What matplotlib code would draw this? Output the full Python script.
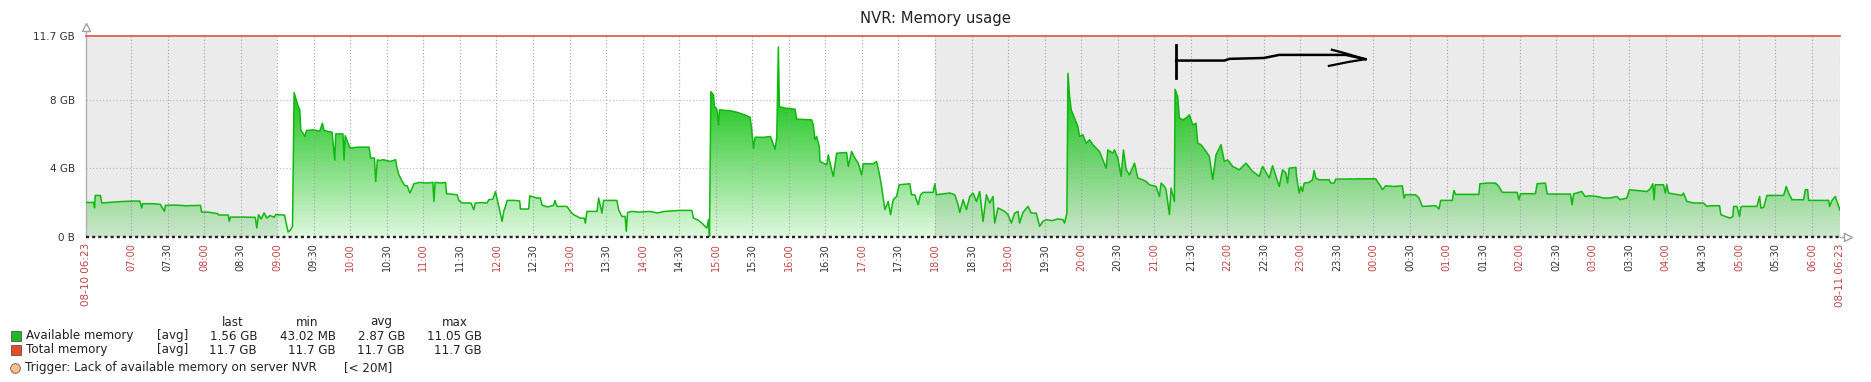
import numpy as np
import matplotlib
matplotlib.use('Agg')
import matplotlib.pyplot as plt
from matplotlib.lines import Line2D

# time in hours since 08-10 00:00, memory in GB
t_start = 6 + 23/60
t_end = 30 + 23/60

# available memory as (hour, GB)
seg_morning = [(6.383, 2.01), (6.49, 2.01), (6.50, 1.70), (6.51, 2.42), (6.58, 2.42), (6.60, 1.98),
               (6.75, 2.03), (6.90, 2.07), (7.00, 2.09), (7.12, 2.09), (7.146, 1.70), (7.16, 1.94),
               (7.30, 1.94), (7.40, 1.90), (7.455, 1.50), (7.47, 1.84), (7.60, 1.86), (7.75, 1.82),
               (7.95, 1.84), (7.965, 1.45), (8.05, 1.45), (8.184, 1.36), (8.20, 1.28), (8.33, 1.28),
               (8.343, 0.91), (8.36, 1.16), (8.55, 1.16), (8.70, 1.14), (8.72, 0.52), (8.744, 1.30),
               (8.78, 1.05), (8.82, 1.40), (8.86, 1.10), (8.90, 1.25), (8.958, 1.15), (8.98, 1.30),
               (9.10, 1.28), (9.117, 0.91), (9.149, 0.29), (9.18, 0.40), (9.209, 0.62), (9.231, 8.41),
               (9.28, 7.69), (9.309, 7.40), (9.322, 6.24), (9.38, 5.85), (9.40, 6.20), (9.50, 6.24),
               (9.58, 6.15), (9.618, 6.62), (9.64, 6.20), (9.75, 6.10), (9.787, 4.49), (9.80, 6.00),
               (9.90, 6.00), (9.914, 4.49), (9.93, 5.90), (9.996, 5.17), (10.10, 5.23), (10.256, 5.23),
               (10.279, 4.59), (10.33, 4.60), (10.347, 3.23), (10.37, 4.49), (10.40, 4.45)]

seg_midday = [(10.45, 4.50), (10.55, 4.40), (10.62, 4.50), (10.634, 4.11), (10.665, 3.62), (10.711, 3.23),
              (10.75, 2.98), (10.779, 2.98), (10.816, 2.56), (10.84, 2.79), (10.87, 3.10), (10.95, 3.18),
              (11.05, 3.14), (11.13, 3.18), (11.144, 2.07), (11.16, 3.18), (11.25, 3.14), (11.303, 3.18),
              (11.317, 2.52), (11.462, 2.46), (11.485, 2.13), (11.53, 1.98), (11.65, 1.98), (11.69, 1.59),
              (11.71, 1.98), (11.80, 2.00), (11.872, 1.98), (11.895, 2.17), (11.95, 2.20), (11.986, 2.65),
              (12.032, 1.78), (12.077, 0.91), (12.10, 1.50), (12.123, 1.78), (12.145, 2.13), (12.25, 2.13),
              (12.318, 2.10), (12.328, 1.63), (12.441, 1.63), (12.455, 2.40), (12.55, 2.27), (12.60, 2.27),
              (12.624, 1.85), (12.70, 1.75), (12.783, 1.85), (12.80, 2.13), (12.828, 1.78), (12.965, 1.78),
              (13.01, 1.49), (13.056, 1.30), (13.147, 1.10), (13.20, 1.10), (13.216, 0.81), (13.238, 1.49),
              (13.375, 1.49), (13.398, 2.27), (13.443, 1.39), (13.466, 2.13), (13.648, 2.13), (13.671, 1.59),
              (13.716, 1.20), (13.76, 1.20), (13.776, 0.33), (13.794, 1.43), (13.85, 1.49), (13.95, 1.45),
              (14.10, 1.49), (14.20, 1.40), (14.30, 1.49), (14.513, 1.55)]

seg_afternoon = [(14.673, 1.55), (14.696, 1.10), (14.764, 0.97), (14.81, 0.81), (14.878, 0.52), (14.901, 1.01),
                 (14.915, 0.04), (14.924, 4.30), (14.933, 8.46), (14.969, 8.27), (14.983, 7.59), (15.015, 7.44),
                 (15.038, 6.53), (15.05, 7.40), (15.197, 7.35), (15.30, 7.25), (15.40, 7.10), (15.47, 6.97),
                 (15.493, 6.24), (15.516, 5.17), (15.539, 5.81), (15.65, 5.80), (15.75, 5.85), (15.812, 5.11),
                 (15.835, 5.81), (15.857, 11.05), (15.871, 7.59), (15.95, 7.50), (16.085, 7.44), (16.108, 6.86),
                 (16.313, 6.82), (16.335, 6.53), (16.358, 5.66), (16.381, 5.85), (16.417, 5.27), (16.426, 4.40),
                 (16.47, 4.30), (16.518, 4.20), (16.54, 4.78), (16.586, 3.91), (16.609, 3.53), (16.654, 4.88),
                 (16.791, 4.92), (16.814, 4.11), (16.859, 4.98), (16.905, 4.59), (16.95, 4.30), (16.996, 3.62),
                 (17.019, 4.26), (17.155, 4.26), (17.201, 4.40), (17.237, 3.72), (17.269, 2.94), (17.292, 2.27),
                 (17.315, 1.59), (17.36, 2.07), (17.392, 1.30), (17.428, 2.17), (17.474, 2.36), (17.51, 3.04),
                 (17.656, 3.10), (17.679, 2.46), (17.724, 2.46), (17.77, 1.88), (17.802, 2.46), (17.838, 2.60),
                 (17.975, 2.60), (17.998, 3.10), (18.02, 2.46), (18.203, 2.56), (18.271, 2.46), (18.316, 1.88),
                 (18.339, 1.43), (18.385, 2.17), (18.43, 1.59), (18.476, 2.36), (18.521, 2.56), (18.567, 2.07),
                 (18.612, 2.65)]

seg_evening = [(18.658, 0.91), (18.703, 2.46), (18.749, 1.98), (18.794, 2.36), (18.817, 0.81), (18.862, 1.69),
               (18.908, 1.59), (18.954, 1.49), (18.999, 1.30), (19.045, 0.81), (19.09, 1.39), (19.136, 1.49),
               (19.158, 0.81), (19.204, 1.43), (19.272, 1.78), (19.318, 1.39), (19.386, 1.39), (19.432, 0.62),
               (19.477, 0.91), (19.523, 1.01), (19.60, 0.95), (19.68, 1.05), (19.75, 1.01), (19.773, 0.81),
               (19.805, 1.39), (19.819, 9.53), (19.842, 8.17), (19.864, 7.40), (19.91, 6.92), (19.955, 6.43),
               (19.978, 5.85), (20.024, 5.95), (20.069, 5.46), (20.115, 5.66), (20.16, 5.37), (20.251, 4.98),
               (20.342, 4.01), (20.365, 5.07), (20.433, 4.88), (20.456, 5.07), (20.502, 4.59), (20.547, 3.53),
               (20.579, 5.07), (20.616, 3.91), (20.661, 3.62), (20.73, 4.30), (20.775, 3.43), (20.843, 3.33),
               (20.889, 3.23), (20.935, 3.04), (21.025, 2.94), (21.071, 2.36), (21.094, 3.14), (21.139, 2.94),
               (21.162, 2.75), (21.208, 1.30), (21.23, 2.85), (21.253, 2.46), (21.276, 2.07), (21.285, 8.60),
               (21.321, 8.17), (21.344, 6.92), (21.39, 6.82), (21.435, 6.92), (21.481, 7.11), (21.526, 6.53),
               (21.572, 6.62), (21.595, 5.46), (21.64, 5.37), (21.709, 4.98), (21.754, 4.69), (21.8, 3.33),
               (21.845, 4.78), (21.914, 5.37), (21.959, 4.40), (22.005, 4.49), (22.073, 4.11), (22.164, 3.91),
               (22.255, 4.30), (22.346, 3.82), (22.437, 3.53), (22.483, 4.11), (22.574, 3.43), (22.619, 4.15),
               (22.665, 3.53), (22.71, 2.94)]

seg_night = [(22.756, 3.91), (22.801, 3.72), (22.824, 3.14), (22.847, 4.01), (22.938, 4.05), (22.947, 3.53),
             (22.983, 2.56), (23.006, 2.94), (23.029, 2.65), (23.052, 3.14), (23.12, 3.18), (23.165, 3.33),
             (23.188, 3.87), (23.211, 3.43), (23.256, 3.33), (23.393, 3.33), (23.416, 3.14), (23.461, 3.14),
             (23.484, 3.37), (24.031, 3.39), (24.053, 3.23), (24.099, 2.94), (24.122, 2.75), (24.167, 2.98),
             (24.28, 2.94), (24.395, 2.98), (24.418, 2.27), (24.44, 2.46), (24.577, 2.46), (24.623, 2.27),
             (24.668, 1.78), (24.85, 1.82), (24.896, 1.63), (24.919, 2.13), (25.078, 2.13), (25.101, 2.71),
             (25.123, 2.48), (25.442, 2.48), (25.456, 3.10), (25.55, 3.14), (25.67, 3.14), (25.716, 2.94),
             (25.761, 2.60), (25.966, 2.60), (25.989, 2.17), (26.012, 2.52), (26.216, 2.52), (26.239, 3.10),
             (26.353, 3.14), (26.376, 2.52), (26.399, 2.50), (26.695, 2.50), (26.717, 1.88), (26.74, 2.52)]

seg_early = [(26.781, 2.56), (26.849, 2.65), (26.895, 2.36), (26.963, 2.40), (27.055, 2.36), (27.146, 2.27),
             (27.237, 2.27), (27.329, 2.36), (27.374, 2.17), (27.466, 2.27), (27.502, 2.75), (27.74, 2.65),
             (27.785, 2.79), (27.822, 3.10), (27.84, 2.17), (27.854, 3.04), (27.97, 3.04), (27.991, 2.56),
             (28.014, 3.04), (28.037, 2.56), (28.219, 2.42), (28.242, 2.56), (28.288, 2.07), (28.379, 1.98),
             (28.516, 1.98), (28.562, 1.78), (28.607, 1.82), (28.735, 1.82), (28.753, 1.30), (28.836, 1.16),
             (28.881, 1.10), (28.918, 1.20), (28.927, 1.78), (28.973, 1.78), (29.009, 1.20), (29.027, 1.72),
             (29.041, 1.78), (29.247, 1.78), (29.283, 2.36), (29.301, 1.69), (29.338, 1.72), (29.384, 2.42),
             (29.612, 2.42), (29.648, 2.94), (29.68, 2.56), (29.726, 2.17), (29.886, 2.17), (29.909, 2.75),
             (29.941, 2.75), (29.954, 2.13), (30.228, 2.13), (30.242, 1.78), (30.274, 2.13), (30.32, 2.36),
             (30.342, 2.07), (30.383, 1.56)]

total_gb = 11.7
trigger_gb = 20 / 1024
offhours = [(t_start, 9.0), (18.0, t_end)]

y_ticks = [0, 4, 8, 11.7]
y_labels = ['0 B', '4 GB', '8 GB', '11.7 GB']

stat_names = ['last', 'min', 'avg', 'max']
avail_stats = ['1.56 GB', '43.02 MB', '2.87 GB', '11.05 GB']
total_stats = ['11.7 GB', '11.7 GB', '11.7 GB', '11.7 GB']

# the hand drawn arrow someone put on the screenshot
mark_bar_t, mark_bar_gb = [21.30, 21.30], [11.18, 9.24]
mark_shaft_t = [21.30, 21.96, 22.03, 22.5, 22.71, 23.62, 23.89]
mark_shaft_gb = [10.27, 10.27, 10.37, 10.42, 10.6, 10.6, 10.35]
mark_barb1_t, mark_barb1_gb = [23.43, 23.60, 23.89], [10.9, 10.71, 10.35]
mark_barb2_t, mark_barb2_gb = [23.39, 23.66, 23.89], [9.96, 10.19, 10.35]

W, H = 1871, 382
def fx(px): return px / W
def fy(py): return 1 - py / H

data = np.array(seg_morning + seg_midday + seg_afternoon + seg_evening + seg_night + seg_early)
t, gb = data[:, 0], data[:, 1]

fig = plt.figure(figsize=(W/100, H/100), dpi=100)
ax = fig.add_axes([fx(86), fy(237), (1840-86)/W, (237-36)/H])

for a, b in offhours:
    ax.axvspan(a, b, color='#ebebeb', lw=0, zorder=0)

# green gradient under the curve
ys = np.linspace(0, total_gb, 256)[:, None]
rgba = np.zeros((256, 2, 4))
rgba[..., 0] = 0.05
rgba[..., 1] = 0.76
rgba[..., 2] = 0.05
rgba[..., 3] = np.clip(0.13 + 0.82 * ys / 8.5, 0, 0.95)
im = ax.imshow(rgba, extent=[t_start, t_end, 0, total_gb], origin='lower',
               aspect='auto', interpolation='bilinear', zorder=1)
poly = ax.fill_between(t, gb, 0, facecolor='none', edgecolor='none')
im.set_clip_path(poly.get_paths()[0], transform=ax.transData)

# grid
half_hours = np.arange(7, 30.01, 0.5)
for h in half_hours:
    ax.axvline(h, color='#a0a0a0', lw=0.8, ls=(0, (1, 2)), zorder=2)
ax.axvline(t_end, color='#a0a0a0', lw=0.8, ls=(0, (1, 2)), zorder=2)
for g in y_ticks[1:3]:
    ax.axhline(g, color='#b8b8b8', lw=0.8, ls=(0, (1, 2)), zorder=2)

ax.plot(t, gb, color='#10b810', lw=1.1, zorder=3)
ax.plot([t_start, t_end], [total_gb, total_gb], color='#e0604a', lw=1.3, zorder=4, clip_on=False)
ax.plot([t_start, t_end], [trigger_gb, trigger_gb], color='#222222', lw=1.7,
        ls=(0, (1.3, 1.3)), zorder=4, clip_on=False)

ax.plot(mark_bar_t, mark_bar_gb, color='black', lw=2, zorder=5)
ax.plot(mark_shaft_t, mark_shaft_gb, color='black', lw=1.8, zorder=5)
ax.plot(mark_barb1_t, mark_barb1_gb, color='black', lw=1.6, zorder=5)
ax.plot(mark_barb2_t, mark_barb2_gb, color='black', lw=1.6, zorder=5)

ax.set_xlim(t_start, t_end)
ax.set_ylim(0, total_gb)
for s in ax.spines.values():
    s.set_visible(False)

# axis lines with the little arrow heads
ax.add_line(Line2D([0, 0], [0, 1.05], transform=ax.transAxes, color='#b0b0b0', lw=1, clip_on=False))
ax.plot([0], [1.045], marker='^', ms=6, mfc='white', mec='#a0a0a0', transform=ax.transAxes, clip_on=False)
ax.add_line(Line2D([1, 1.003], [0, 0], transform=ax.transAxes, color='#b0b0b0', lw=1, clip_on=False))
ax.plot([1.0045], [0], marker='>', ms=6, mfc='white', mec='#a0a0a0', transform=ax.transAxes, clip_on=False)

ax.set_yticks(y_ticks)
ax.set_yticklabels(y_labels, fontsize=7.5, color='#333333')
ax.tick_params(axis='y', length=0, pad=8)

tick_t = [t_start] + list(half_hours) + [t_end]
tick_txt = ['08-10 06:23'] + ['%02d:%02d' % (int(h) % 24, 30 if h % 1 else 0) for h in half_hours] + ['08-11 06:23']
ax.set_xticks(tick_t)
ax.set_xticklabels(tick_txt, rotation=90, fontsize=7)
ax.tick_params(axis='x', length=0, pad=4.5)
for lab, h in zip(ax.get_xticklabels(), tick_t):
    lab.set_color('#333333' if (h % 1 == 0.5) else '#c04444')
ax.get_xticklabels()[0].set_fontsize(7.5)
ax.get_xticklabels()[-1].set_fontsize(7.5)

fig.text(fx(935), fy(19), 'NVR: Memory usage', ha='center', va='center', fontsize=10.6, color='#222222')

# legend table
lf = 8.6
for name, xc in zip(stat_names, [233, 307, 381, 455]):
    fig.text(fx(xc), fy(322), name, ha='center', va='center', fontsize=lf, color='#222222')
rows = [('Available memory', '#22b822', avail_stats, 336),
        ('Total memory', '#e84a22', total_stats, 350)]
for name, col, stats, yc in rows:
    fig.add_artist(Line2D([fx(16)], [fy(yc)], marker='s', ms=7.5, mfc=col, mec='#555555',
                          mew=0.6, transform=fig.transFigure))
    fig.text(fx(26), fy(yc), name, ha='left', va='center', fontsize=lf, color='#222222')
    fig.text(fx(157), fy(yc), '[avg]', ha='left', va='center', fontsize=lf, color='#222222')
    for s, xr in zip(stats, [257, 336, 405, 482]):
        fig.text(fx(xr), fy(yc), s, ha='right', va='center', fontsize=lf, color='#222222')
fig.add_artist(Line2D([fx(15)], [fy(368)], marker='o', ms=7, mfc='#f4c08c', mec='#8a6a50',
                      mew=0.7, transform=fig.transFigure))
fig.text(fx(25), fy(368), 'Trigger: Lack of available memory on server NVR', ha='left', va='center',
         fontsize=lf, color='#222222')
fig.text(fx(344), fy(368), '[< 20M]', ha='left', va='center', fontsize=lf, color='#222222')

fig.savefig('out.png', dpi=100)
